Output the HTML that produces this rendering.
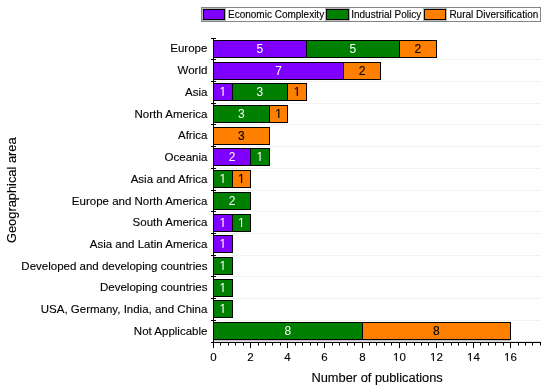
<!DOCTYPE html>
<html><head><meta charset="utf-8"><style>
html,body{margin:0;padding:0;background:#fff;}
body{width:550px;height:387px;overflow:hidden;}
svg{display:block;font-family:"Liberation Sans",Arial,sans-serif;}
text{stroke-width:0.12px;}
</style></head><body>
<svg width="550" height="387" viewBox="0 0 550 387">
<rect x="0" y="0" width="550" height="387" fill="#fff"/>
<line x1="214" y1="59.5" x2="541" y2="59.5" stroke="#e6e6e6" stroke-width="1" stroke-dasharray="1 1"/>
<line x1="214" y1="81.5" x2="541" y2="81.5" stroke="#e6e6e6" stroke-width="1" stroke-dasharray="1 1"/>
<line x1="214" y1="103.5" x2="541" y2="103.5" stroke="#e6e6e6" stroke-width="1" stroke-dasharray="1 1"/>
<line x1="214" y1="124.5" x2="541" y2="124.5" stroke="#e6e6e6" stroke-width="1" stroke-dasharray="1 1"/>
<line x1="214" y1="146.5" x2="541" y2="146.5" stroke="#e6e6e6" stroke-width="1" stroke-dasharray="1 1"/>
<line x1="214" y1="168.5" x2="541" y2="168.5" stroke="#e6e6e6" stroke-width="1" stroke-dasharray="1 1"/>
<line x1="214" y1="190.5" x2="541" y2="190.5" stroke="#e6e6e6" stroke-width="1" stroke-dasharray="1 1"/>
<line x1="214" y1="211.5" x2="541" y2="211.5" stroke="#e6e6e6" stroke-width="1" stroke-dasharray="1 1"/>
<line x1="214" y1="233.5" x2="541" y2="233.5" stroke="#e6e6e6" stroke-width="1" stroke-dasharray="1 1"/>
<line x1="214" y1="255.5" x2="541" y2="255.5" stroke="#e6e6e6" stroke-width="1" stroke-dasharray="1 1"/>
<line x1="214" y1="276.5" x2="541" y2="276.5" stroke="#e6e6e6" stroke-width="1" stroke-dasharray="1 1"/>
<line x1="214" y1="298.5" x2="541" y2="298.5" stroke="#e6e6e6" stroke-width="1" stroke-dasharray="1 1"/>
<line x1="214" y1="320.5" x2="541" y2="320.5" stroke="#e6e6e6" stroke-width="1" stroke-dasharray="1 1"/>
<rect x="214" y="340" width="296" height="2" fill="#c9c5cf"/>
<line x1="214" y1="341.5" x2="541" y2="341.5" stroke="#dcdcdc" stroke-width="1"/>
<rect x="213.5" y="40.5" width="93.0" height="17" fill="#8000ff" stroke="#000" stroke-width="1"/>
<text x="259.94" y="53" font-size="12" text-anchor="middle" fill="#ffffff">5</text>
<rect x="306.5" y="40.5" width="93.0" height="17" fill="#008000" stroke="#000" stroke-width="1"/>
<text x="352.81" y="53" font-size="12" text-anchor="middle" fill="#ffffff">5</text>
<rect x="399.5" y="40.5" width="37.0" height="17" fill="#ff8000" stroke="#000" stroke-width="1"/>
<text x="417.82" y="53" font-size="12" text-anchor="middle" fill="#000000" stroke="#000">2</text>
<rect x="213.5" y="62.5" width="130.0" height="17" fill="#8000ff" stroke="#000" stroke-width="1"/>
<text x="278.51" y="75" font-size="12" text-anchor="middle" fill="#ffffff">7</text>
<rect x="343.5" y="62.5" width="37.0" height="17" fill="#ff8000" stroke="#000" stroke-width="1"/>
<text x="362.10" y="75" font-size="12" text-anchor="middle" fill="#000000" stroke="#000">2</text>
<rect x="213.5" y="83.5" width="19.0" height="17" fill="#8000ff" stroke="#000" stroke-width="1"/>
<clipPath id="c2_0"><rect x="217.79" y="84" width="10" height="11"/><rect x="222.46" y="95" width="1.06" height="1"/></clipPath>
<text x="222.79" y="96" font-size="12" clip-path="url(#c2_0)" text-anchor="middle" fill="#ffffff">1</text>
<rect x="232.5" y="83.5" width="55.0" height="17" fill="#008000" stroke="#000" stroke-width="1"/>
<text x="259.94" y="96" font-size="12" text-anchor="middle" fill="#ffffff">3</text>
<rect x="287.5" y="83.5" width="19.0" height="17" fill="#ff8000" stroke="#000" stroke-width="1"/>
<clipPath id="c2_2"><rect x="292.09" y="84" width="10" height="11"/><rect x="296.76" y="95" width="1.06" height="1"/></clipPath>
<text x="297.09" y="96" font-size="12" clip-path="url(#c2_2)" text-anchor="middle" fill="#000000" stroke="#000">1</text>
<rect x="213.5" y="105.5" width="56.0" height="17" fill="#008000" stroke="#000" stroke-width="1"/>
<text x="241.36" y="118" font-size="12" text-anchor="middle" fill="#ffffff">3</text>
<rect x="269.5" y="105.5" width="18.0" height="17" fill="#ff8000" stroke="#000" stroke-width="1"/>
<clipPath id="c3_2"><rect x="273.51" y="106" width="10" height="11"/><rect x="278.18" y="117" width="1.06" height="1"/></clipPath>
<text x="278.51" y="118" font-size="12" clip-path="url(#c3_2)" text-anchor="middle" fill="#000000" stroke="#000">1</text>
<rect x="213.5" y="127.5" width="56.0" height="17" fill="#ff8000" stroke="#000" stroke-width="1"/>
<text x="241.36" y="140" font-size="12" text-anchor="middle" fill="#000000" stroke="#000">3</text>
<rect x="213.5" y="148.5" width="37.0" height="17" fill="#8000ff" stroke="#000" stroke-width="1"/>
<text x="232.07" y="161" font-size="12" text-anchor="middle" fill="#ffffff">2</text>
<rect x="250.5" y="148.5" width="19.0" height="17" fill="#008000" stroke="#000" stroke-width="1"/>
<clipPath id="c5_1"><rect x="254.94" y="149" width="10" height="11"/><rect x="259.61" y="160" width="1.06" height="1"/></clipPath>
<text x="259.94" y="161" font-size="12" clip-path="url(#c5_1)" text-anchor="middle" fill="#ffffff">1</text>
<rect x="213.5" y="170.5" width="19.0" height="17" fill="#008000" stroke="#000" stroke-width="1"/>
<clipPath id="c6_1"><rect x="217.79" y="171" width="10" height="11"/><rect x="222.46" y="182" width="1.06" height="1"/></clipPath>
<text x="222.79" y="183" font-size="12" clip-path="url(#c6_1)" text-anchor="middle" fill="#ffffff">1</text>
<rect x="232.5" y="170.5" width="18.0" height="17" fill="#ff8000" stroke="#000" stroke-width="1"/>
<clipPath id="c6_2"><rect x="236.36" y="171" width="10" height="11"/><rect x="241.03" y="182" width="1.06" height="1"/></clipPath>
<text x="241.36" y="183" font-size="12" clip-path="url(#c6_2)" text-anchor="middle" fill="#000000" stroke="#000">1</text>
<rect x="213.5" y="192.5" width="37.0" height="17" fill="#008000" stroke="#000" stroke-width="1"/>
<text x="232.07" y="205" font-size="12" text-anchor="middle" fill="#ffffff">2</text>
<rect x="213.5" y="214.5" width="19.0" height="17" fill="#8000ff" stroke="#000" stroke-width="1"/>
<clipPath id="c8_0"><rect x="217.79" y="215" width="10" height="11"/><rect x="222.46" y="226" width="1.06" height="1"/></clipPath>
<text x="222.79" y="227" font-size="12" clip-path="url(#c8_0)" text-anchor="middle" fill="#ffffff">1</text>
<rect x="232.5" y="214.5" width="18.0" height="17" fill="#008000" stroke="#000" stroke-width="1"/>
<clipPath id="c8_1"><rect x="236.36" y="215" width="10" height="11"/><rect x="241.03" y="226" width="1.06" height="1"/></clipPath>
<text x="241.36" y="227" font-size="12" clip-path="url(#c8_1)" text-anchor="middle" fill="#ffffff">1</text>
<rect x="213.5" y="235.5" width="19.0" height="17" fill="#8000ff" stroke="#000" stroke-width="1"/>
<clipPath id="c9_0"><rect x="217.79" y="236" width="10" height="11"/><rect x="222.46" y="247" width="1.06" height="1"/></clipPath>
<text x="222.79" y="248" font-size="12" clip-path="url(#c9_0)" text-anchor="middle" fill="#ffffff">1</text>
<rect x="213.5" y="257.5" width="19.0" height="17" fill="#008000" stroke="#000" stroke-width="1"/>
<clipPath id="c10_1"><rect x="217.79" y="258" width="10" height="11"/><rect x="222.46" y="269" width="1.06" height="1"/></clipPath>
<text x="222.79" y="270" font-size="12" clip-path="url(#c10_1)" text-anchor="middle" fill="#ffffff">1</text>
<rect x="213.5" y="279.5" width="19.0" height="17" fill="#008000" stroke="#000" stroke-width="1"/>
<clipPath id="c11_1"><rect x="217.79" y="280" width="10" height="11"/><rect x="222.46" y="291" width="1.06" height="1"/></clipPath>
<text x="222.79" y="292" font-size="12" clip-path="url(#c11_1)" text-anchor="middle" fill="#ffffff">1</text>
<rect x="213.5" y="300.5" width="19.0" height="17" fill="#008000" stroke="#000" stroke-width="1"/>
<clipPath id="c12_1"><rect x="217.79" y="301" width="10" height="11"/><rect x="222.46" y="312" width="1.06" height="1"/></clipPath>
<text x="222.79" y="313" font-size="12" clip-path="url(#c12_1)" text-anchor="middle" fill="#ffffff">1</text>
<rect x="213.5" y="322.5" width="149.0" height="17" fill="#008000" stroke="#000" stroke-width="1"/>
<text x="287.80" y="335" font-size="12" text-anchor="middle" fill="#ffffff">8</text>
<rect x="362.5" y="322.5" width="148.0" height="17" fill="#ff8000" stroke="#000" stroke-width="1"/>
<text x="436.40" y="335" font-size="12" text-anchor="middle" fill="#000000" stroke="#000">8</text>
<text x="207.4" y="52.46" font-size="11.5" text-anchor="end" fill="#000" stroke="#000">Europe</text>
<text x="207.4" y="74.18" font-size="11.5" text-anchor="end" fill="#000" stroke="#000">World</text>
<text x="207.4" y="95.90" font-size="11.5" text-anchor="end" fill="#000" stroke="#000">Asia</text>
<text x="207.4" y="117.62" font-size="11.5" text-anchor="end" fill="#000" stroke="#000">North America</text>
<text x="207.4" y="139.34" font-size="11.5" text-anchor="end" fill="#000" stroke="#000">Africa</text>
<text x="207.4" y="161.06" font-size="11.5" text-anchor="end" fill="#000" stroke="#000">Oceania</text>
<text x="207.4" y="182.78" font-size="11.5" text-anchor="end" fill="#000" stroke="#000">Asia and Africa</text>
<text x="207.4" y="204.50" font-size="11.5" text-anchor="end" fill="#000" stroke="#000">Europe and North America</text>
<text x="207.4" y="226.22" font-size="11.5" text-anchor="end" fill="#000" stroke="#000">South America</text>
<text x="207.4" y="247.94" font-size="11.5" text-anchor="end" fill="#000" stroke="#000">Asia and Latin America</text>
<text x="207.4" y="269.66" font-size="11.5" text-anchor="end" fill="#000" stroke="#000">Developed and developing countries</text>
<text x="207.4" y="291.38" font-size="11.5" text-anchor="end" fill="#000" stroke="#000">Developing countries</text>
<text x="207.4" y="313.10" font-size="11.5" text-anchor="end" fill="#000" stroke="#000">USA, Germany, India, and China</text>
<text x="207.4" y="334.82" font-size="11.5" text-anchor="end" fill="#000" stroke="#000">Not Applicable</text>
<line x1="213.5" y1="38" x2="213.5" y2="348" stroke="#000" stroke-width="1"/>
<line x1="211" y1="342.5" x2="541" y2="342.5" stroke="#000" stroke-width="1"/>
<line x1="211" y1="38.5" x2="216" y2="38.5" stroke="#000" stroke-width="1"/>
<line x1="211" y1="59.5" x2="216" y2="59.5" stroke="#000" stroke-width="1"/>
<line x1="211" y1="81.5" x2="216" y2="81.5" stroke="#000" stroke-width="1"/>
<line x1="211" y1="103.5" x2="216" y2="103.5" stroke="#000" stroke-width="1"/>
<line x1="211" y1="124.5" x2="216" y2="124.5" stroke="#000" stroke-width="1"/>
<line x1="211" y1="146.5" x2="216" y2="146.5" stroke="#000" stroke-width="1"/>
<line x1="211" y1="168.5" x2="216" y2="168.5" stroke="#000" stroke-width="1"/>
<line x1="211" y1="190.5" x2="216" y2="190.5" stroke="#000" stroke-width="1"/>
<line x1="211" y1="211.5" x2="216" y2="211.5" stroke="#000" stroke-width="1"/>
<line x1="211" y1="233.5" x2="216" y2="233.5" stroke="#000" stroke-width="1"/>
<line x1="211" y1="255.5" x2="216" y2="255.5" stroke="#000" stroke-width="1"/>
<line x1="211" y1="276.5" x2="216" y2="276.5" stroke="#000" stroke-width="1"/>
<line x1="211" y1="298.5" x2="216" y2="298.5" stroke="#000" stroke-width="1"/>
<line x1="211" y1="320.5" x2="216" y2="320.5" stroke="#000" stroke-width="1"/>
<line x1="213.5" y1="343" x2="213.5" y2="348" stroke="#000" stroke-width="1"/>
<text x="213.50" y="361" font-size="11.5" text-anchor="middle" fill="#000" stroke="#000">0</text>
<line x1="220.5" y1="343" x2="220.5" y2="345.5" stroke="#000" stroke-width="1"/>
<line x1="228.5" y1="343" x2="228.5" y2="345.5" stroke="#000" stroke-width="1"/>
<line x1="235.5" y1="343" x2="235.5" y2="345.5" stroke="#000" stroke-width="1"/>
<line x1="243.5" y1="343" x2="243.5" y2="345.5" stroke="#000" stroke-width="1"/>
<line x1="250.5" y1="343" x2="250.5" y2="348" stroke="#000" stroke-width="1"/>
<text x="250.50" y="361" font-size="11.5" text-anchor="middle" fill="#000" stroke="#000">2</text>
<line x1="258.5" y1="343" x2="258.5" y2="345.5" stroke="#000" stroke-width="1"/>
<line x1="265.5" y1="343" x2="265.5" y2="345.5" stroke="#000" stroke-width="1"/>
<line x1="272.5" y1="343" x2="272.5" y2="345.5" stroke="#000" stroke-width="1"/>
<line x1="280.5" y1="343" x2="280.5" y2="345.5" stroke="#000" stroke-width="1"/>
<line x1="287.5" y1="343" x2="287.5" y2="348" stroke="#000" stroke-width="1"/>
<text x="287.50" y="361" font-size="11.5" text-anchor="middle" fill="#000" stroke="#000">4</text>
<line x1="295.5" y1="343" x2="295.5" y2="345.5" stroke="#000" stroke-width="1"/>
<line x1="302.5" y1="343" x2="302.5" y2="345.5" stroke="#000" stroke-width="1"/>
<line x1="310.5" y1="343" x2="310.5" y2="345.5" stroke="#000" stroke-width="1"/>
<line x1="317.5" y1="343" x2="317.5" y2="345.5" stroke="#000" stroke-width="1"/>
<line x1="324.5" y1="343" x2="324.5" y2="348" stroke="#000" stroke-width="1"/>
<text x="324.50" y="361" font-size="11.5" text-anchor="middle" fill="#000" stroke="#000">6</text>
<line x1="332.5" y1="343" x2="332.5" y2="345.5" stroke="#000" stroke-width="1"/>
<line x1="339.5" y1="343" x2="339.5" y2="345.5" stroke="#000" stroke-width="1"/>
<line x1="347.5" y1="343" x2="347.5" y2="345.5" stroke="#000" stroke-width="1"/>
<line x1="354.5" y1="343" x2="354.5" y2="345.5" stroke="#000" stroke-width="1"/>
<line x1="362.5" y1="343" x2="362.5" y2="348" stroke="#000" stroke-width="1"/>
<text x="362.50" y="361" font-size="11.5" text-anchor="middle" fill="#000" stroke="#000">8</text>
<line x1="369.5" y1="343" x2="369.5" y2="345.5" stroke="#000" stroke-width="1"/>
<line x1="376.5" y1="343" x2="376.5" y2="345.5" stroke="#000" stroke-width="1"/>
<line x1="384.5" y1="343" x2="384.5" y2="345.5" stroke="#000" stroke-width="1"/>
<line x1="391.5" y1="343" x2="391.5" y2="345.5" stroke="#000" stroke-width="1"/>
<line x1="399.5" y1="343" x2="399.5" y2="348" stroke="#000" stroke-width="1"/>
<clipPath id="t10"><rect x="391.10" y="345" width="16.79" height="15"/><rect x="395.99" y="360" width="1.01" height="1"/><rect x="399.50" y="359" width="12.79" height="6"/></clipPath>
<text x="399.50" y="361" font-size="11.5" clip-path="url(#t10)" text-anchor="middle" fill="#000" stroke="#000">10</text>
<line x1="406.5" y1="343" x2="406.5" y2="345.5" stroke="#000" stroke-width="1"/>
<line x1="414.5" y1="343" x2="414.5" y2="345.5" stroke="#000" stroke-width="1"/>
<line x1="421.5" y1="343" x2="421.5" y2="345.5" stroke="#000" stroke-width="1"/>
<line x1="428.5" y1="343" x2="428.5" y2="345.5" stroke="#000" stroke-width="1"/>
<line x1="436.5" y1="343" x2="436.5" y2="348" stroke="#000" stroke-width="1"/>
<clipPath id="t12"><rect x="428.10" y="345" width="16.79" height="15"/><rect x="432.99" y="360" width="1.01" height="1"/><rect x="436.50" y="359" width="12.79" height="6"/></clipPath>
<text x="436.50" y="361" font-size="11.5" clip-path="url(#t12)" text-anchor="middle" fill="#000" stroke="#000">12</text>
<line x1="443.5" y1="343" x2="443.5" y2="345.5" stroke="#000" stroke-width="1"/>
<line x1="451.5" y1="343" x2="451.5" y2="345.5" stroke="#000" stroke-width="1"/>
<line x1="458.5" y1="343" x2="458.5" y2="345.5" stroke="#000" stroke-width="1"/>
<line x1="466.5" y1="343" x2="466.5" y2="345.5" stroke="#000" stroke-width="1"/>
<line x1="473.5" y1="343" x2="473.5" y2="348" stroke="#000" stroke-width="1"/>
<clipPath id="t14"><rect x="465.10" y="345" width="16.79" height="15"/><rect x="469.99" y="360" width="1.01" height="1"/><rect x="473.50" y="359" width="12.79" height="6"/></clipPath>
<text x="473.50" y="361" font-size="11.5" clip-path="url(#t14)" text-anchor="middle" fill="#000" stroke="#000">14</text>
<line x1="480.5" y1="343" x2="480.5" y2="345.5" stroke="#000" stroke-width="1"/>
<line x1="488.5" y1="343" x2="488.5" y2="345.5" stroke="#000" stroke-width="1"/>
<line x1="495.5" y1="343" x2="495.5" y2="345.5" stroke="#000" stroke-width="1"/>
<line x1="503.5" y1="343" x2="503.5" y2="345.5" stroke="#000" stroke-width="1"/>
<line x1="510.5" y1="343" x2="510.5" y2="348" stroke="#000" stroke-width="1"/>
<clipPath id="t16"><rect x="502.10" y="345" width="16.79" height="15"/><rect x="506.99" y="360" width="1.01" height="1"/><rect x="510.50" y="359" width="12.79" height="6"/></clipPath>
<text x="510.50" y="361" font-size="11.5" clip-path="url(#t16)" text-anchor="middle" fill="#000" stroke="#000">16</text>
<line x1="518.5" y1="343" x2="518.5" y2="345.5" stroke="#000" stroke-width="1"/>
<line x1="525.5" y1="343" x2="525.5" y2="345.5" stroke="#000" stroke-width="1"/>
<line x1="532.5" y1="343" x2="532.5" y2="345.5" stroke="#000" stroke-width="1"/>
<line x1="540.5" y1="343" x2="540.5" y2="345.5" stroke="#000" stroke-width="1"/>
<text x="377.1" y="382" font-size="12.85" text-anchor="middle" fill="#000" stroke="#000">Number of publications</text>
<text transform="translate(16.3,190.2) rotate(-90)" x="0" y="0" font-size="12.85" text-anchor="middle" fill="#000" stroke="#000">Geographical area</text>
<rect x="201.5" y="7.5" width="339" height="14" fill="#fff" stroke="#858585" stroke-width="1"/>
<rect x="202.0" y="8" width="24.0" height="13" fill="#b8b8b8"/>
<rect x="203.5" y="9.5" width="21.0" height="10" fill="#8000ff" stroke="#000" stroke-width="1"/>
<text x="228" y="18.4" font-size="10" fill="#000" stroke="#000">Economic Complexity</text>
<rect x="325.0" y="8" width="25.0" height="13" fill="#b8b8b8"/>
<rect x="326.5" y="9.5" width="22.0" height="10" fill="#008000" stroke="#000" stroke-width="1"/>
<text x="351.2" y="18.4" font-size="10" fill="#000" stroke="#000">Industrial Policy</text>
<rect x="423.0" y="8" width="24.0" height="13" fill="#b8b8b8"/>
<rect x="424.5" y="9.5" width="21.0" height="10" fill="#ff8000" stroke="#000" stroke-width="1"/>
<text x="449.4" y="18.4" font-size="10" fill="#000" stroke="#000">Rural Diversification</text>
</svg>
</body></html>
